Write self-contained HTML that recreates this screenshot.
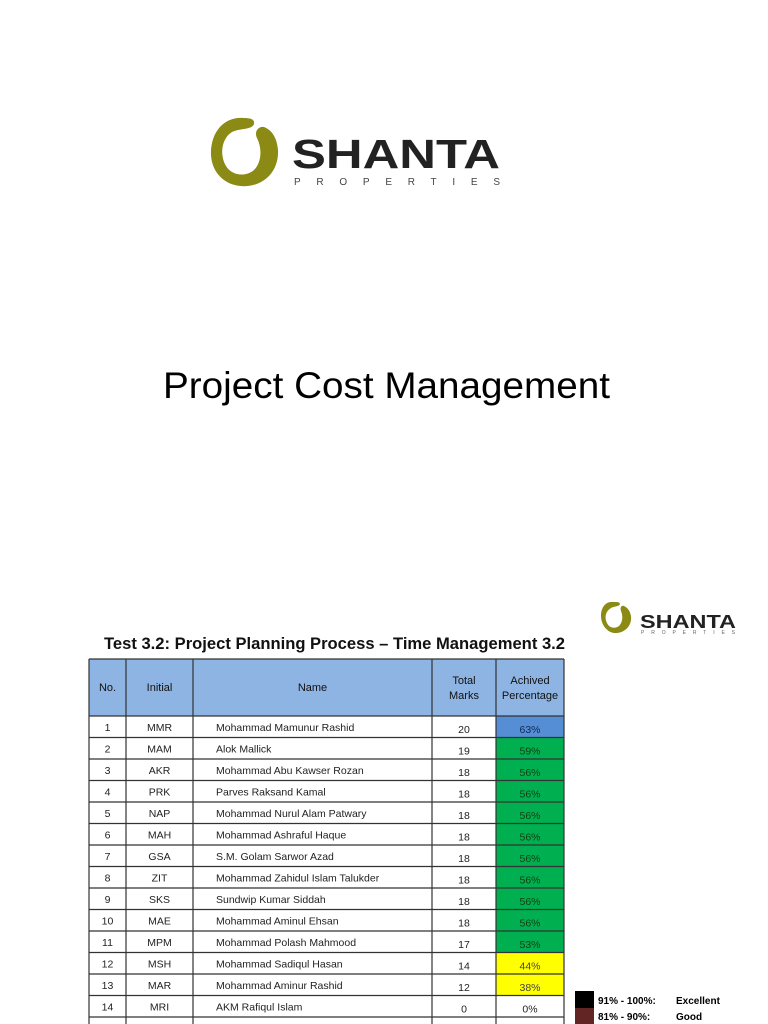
<!DOCTYPE html>
<html><head><meta charset="utf-8"><style>
html,body{margin:0;padding:0;background:#fff;}
svg{display:block;font-family:"Liberation Sans",sans-serif;}
</style></head><body>
<svg width="768" height="1024" viewBox="0 0 768 1024">
<g>
  <path d="M244 118 C222 116 210 135 211 155 C212 175 228 188 248 186 C266 184 279 170 278 150 C277 138 272 130 264 127 C258 126 254 132 257 138 C262 148 262 162 254 170 C246 177 232 176 226 166 C219 154 222 138 232 132 C240 128 252 130 254 124 C255 119 250 118 244 118 Z" fill="#8a8a14"/>
  <text x="292" y="168" font-size="41" font-weight="bold" fill="#222" textLength="208" lengthAdjust="spacingAndGlyphs">SHANTA</text>
  <text x="294" y="185" font-size="10" fill="#444" textLength="206" lengthAdjust="spacing">PROPERTIES</text>
</g>
<text x="163" y="398" font-size="37" fill="#000" textLength="447" lengthAdjust="spacingAndGlyphs">Project Cost Management</text>
<g>
  <path d="M614 602 C605 601 601 608 601 616 C601 625 608 634 617 633 C626 632 632 625 631 616 C630 611 628 608 624 606 C621 605 620 608 621 611 C623 616 623 622 619 626 C615 629 609 628 607 623 C604 617 606 611 611 608 C614 606 619 607 620 604 C620 602 617 602 614 602 Z" fill="#8a8a14"/>
  <text x="640" y="628" font-size="18" font-weight="bold" fill="#222" textLength="96" lengthAdjust="spacingAndGlyphs">SHANTA</text>
  <text x="641" y="634" font-size="5" fill="#666" textLength="94" lengthAdjust="spacing">PROPERTIES</text>
</g>
<text x="104" y="649" font-size="17" font-weight="bold" fill="#111" textLength="461" lengthAdjust="spacingAndGlyphs">Test 3.2: Project Planning Process – Time Management 3.2</text>
<g id="tbl"></g>
<g>
  <rect x="575" y="991" width="19" height="17" fill="#000"/>
  <rect x="575" y="1008" width="19" height="16" fill="#632523"/>
  <text x="598" y="1004" font-size="10" font-weight="bold" fill="#000">91% - 100%:</text>
  <text x="676" y="1004" font-size="10" font-weight="bold" fill="#000">Excellent</text>
  <text x="598" y="1020" font-size="10" font-weight="bold" fill="#000">81% - 90%:</text>
  <text x="676" y="1020" font-size="10" font-weight="bold" fill="#000">Good</text>
</g>
</svg>
<script>
const numbers=["1","2","3","4","5","6","7","8","9","10","11","12","13","14","15"];
const initials=["MMR","MAM","AKR","PRK","NAP","MAH","GSA","ZIT","SKS","MAE","MPM","MSH","MAR","MRI","SEN"];
const names=["Mohammad Mamunur Rashid","Alok Mallick","Mohammad Abu Kawser Rozan","Parves Raksand Kamal","Mohammad Nurul Alam Patwary","Mohammad Ashraful Haque","S.M. Golam Sarwor Azad","Mohammad Zahidul Islam Talukder","Sundwip Kumar Siddah","Mohammad Aminul Ehsan","Mohammad Polash Mahmood","Mohammad Sadiqul Hasan","Mohammad Aminur Rashid","AKM Rafiqul Islam","Sirat E Noor"];
const marks=[20,19,18,18,18,18,18,18,18,18,17,14,12,0,0];
const percents=[63,59,56,56,56,56,56,56,56,56,53,44,38,0,0];
const NS="http://www.w3.org/2000/svg";
const g=document.getElementById('tbl');
const cols=[89,126,193,432,496,564];
const headTop=659, headBot=716, rowH=21.5;
function mk(tag,attrs,parent){const e=document.createElementNS(NS,tag);for(const k in attrs)e.setAttribute(k,attrs[k]);(parent||g).appendChild(e);return e;}
function pctColor(p){if(p>=60)return "#558ed5";if(p>=50)return "#00b050";if(p>=30)return "#ffff00";return "#fff";}
function pctText(p){if(p>=60)return "#0f2a55";if(p>=50)return "#123d12";if(p>=30)return "#444";return "#222";}
const hdr=mk('rect',{x:89,y:headTop,width:475,height:headBot-headTop,fill:"#8db4e2"});


const heads=[["No."],["Initial"],["Name"],["Total","Marks"],["Achived","Percentage"]];
heads.forEach((h,i)=>{const cx=(cols[i]+cols[i+1])/2;h.forEach((ln,j)=>{const t=mk('text',{x:cx,y:(h.length==1?691:684+j*15),'font-size':11,'text-anchor':'middle',fill:'#111'});t.textContent=ln;

});});
for(let r=0;r<numbers.length;r++){
  const y=headBot+r*rowH;
  const row=mk('g',{});
  
  
  const cell=mk('rect',{x:cols[4],y:y,width:cols[5]-cols[4],height:rowH,fill:r<14?pctColor(percents[r]):"#fff"},row);
  
  
  const ty=y+15;
  const vals=[numbers[r],initials[r],names[r],String(marks[r]),percents[r]+"%"];
  vals.forEach((v,i)=>{
    const a=i==2?{x:216,y:ty,'text-anchor':'start'}:{x:(cols[i]+cols[i+1])/2,y:(i>=3?ty+2:ty),'text-anchor':'middle'};
    a['font-size']=10.5;a.fill=i==4?pctText(percents[r]):'#222';
    const t=mk('text',a,row);t.textContent=v;
    
    
  });
  mk('line',{x1:89,x2:564,y1:y,y2:y,stroke:'#333','stroke-width':1.2});
}
mk('line',{x1:89,x2:564,y1:headTop,y2:headTop,stroke:'#333','stroke-width':1.2});
cols.forEach(x=>mk('line',{x1:x,x2:x,y1:headTop,y2:1024,stroke:'#333','stroke-width':1.2}));
</script>
</body></html>
